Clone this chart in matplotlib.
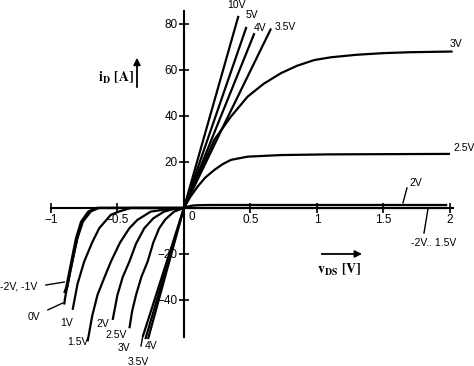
import numpy as np
import matplotlib.pyplot as plt

plt.rcParams['font.family'] = ['Liberation Sans', 'DejaVu Sans']
plt.rcParams['mathtext.fontset'] = 'stix'

# positive vDS branch (first quadrant)
x10 = [0, 0.41]
y10 = [0, 83.5]
x5 = [0, 0.47]
y5 = [0, 78.7]
x4 = [0, 0.53]
y4 = [0, 76]
x35 = [0, 0.3, 0.655]
y35 = [0, 36, 78]
x3 = [0, 0.103, 0.228, 0.353, 0.479, 0.6, 0.73, 0.85, 0.98, 1.105, 1.3, 1.5, 1.7, 2.02]
y3 = [0, 13.6, 29.6, 39.7, 48.4, 54, 58.6, 61.8, 64.3, 65.5, 66.6, 67.3, 67.7, 68]
x25 = [0, 0.05, 0.103, 0.16, 0.228, 0.29, 0.353, 0.479, 0.73, 1.1, 2.0]
y25 = [0, 5, 9.3, 13.2, 16.5, 19, 20.9, 22.3, 23, 23.3, 23.5]
x2 = [0, 0.03, 0.06, 0.1, 0.2, 1.98]
y2 = [0, 0.6, 1.0, 1.2, 1.3, 1.3]
xoff = [0, 1.98]
yoff = [0, 0]

# negative vDS branch (third quadrant)
nx_m2 = [0, -0.66, -0.72, -0.774, -0.812, -0.837, -0.862, -0.887, -0.9]
ny_m2 = [0, 0, -1.6, -6, -13.2, -20.4, -27.7, -34.9, -37]
nx_m1 = [0, -0.65, -0.71, -0.765, -0.803, -0.83, -0.855, -0.878, -0.89]
ny_m1 = [0, 0, -1.6, -6, -13.2, -20.4, -27.7, -34.5, -36]
nx_0 = [0, -0.64, -0.70, -0.76, -0.80, -0.828, -0.855, -0.88, -0.895, -0.9]
ny_0 = [0, 0, -1.5, -6, -13, -20.4, -27.7, -35, -39.5, -42]
nx_1 = [0, -0.4, -0.49, -0.55, -0.637, -0.69, -0.75, -0.8, -0.837]
ny_1 = [0, 0, -1.6, -3, -8.8, -15, -23.3, -33, -44.3]
nx_15 = [0, -0.1, -0.25, -0.35, -0.41, -0.48, -0.549, -0.6, -0.65, -0.69, -0.724]
ny_15 = [0, -0.3, -1.6, -5.2, -8.8, -15, -23.3, -30.5, -37.8, -47, -58]
nx_2 = [0, -0.08, -0.15, -0.23, -0.298, -0.36, -0.41, -0.46, -0.5, -0.536]
ny_2 = [0, -0.5, -1.6, -4.5, -8.8, -15.5, -23.3, -30, -37.8, -48.7]
nx_25 = [0, -0.075, -0.14, -0.186, -0.23, -0.273, -0.32, -0.36, -0.39, -0.41]
ny_25 = [0, -1.6, -5, -8.8, -15, -23.3, -30, -37.8, -45, -52.3]
nx_3 = [0, -0.31]
ny_3 = [0, -56]
nx_35 = [0, -0.29]
ny_35 = [0, -57]
nx_4 = [0, -0.27]
ny_4 = [0, -57]

xticks = [-1, -0.5, 0.5, 1, 1.5, 2]
xticklabels = ['\u22121', '\u22120.5', '0.5', '1', '1.5', '2']
yticks = [-40, -20, 20, 40, 60, 80]
yticklabels = ['\u221240', '\u221220', '20', '40', '60', '80']

fig = plt.figure(figsize=(4.74, 3.66), dpi=100)
ax = fig.add_axes([0, 0, 1, 1])
ax.set_xlim(-1.383, 2.181)
ax.set_ylim(-68.7, 90.4)

for s in ['top', 'right']:
    ax.spines[s].set_visible(False)
ax.spines['left'].set_position(('data', 0))
ax.spines['bottom'].set_position(('data', 0))
ax.spines['left'].set_bounds(-56, 85.6)
ax.spines['bottom'].set_bounds(-1, 2.02)
ax.spines['left'].set_linewidth(1.5)
ax.spines['bottom'].set_linewidth(1.5)
ax.set_xticks(xticks)
ax.set_xticklabels(xticklabels)
ax.set_yticks(yticks)
ax.set_yticklabels(yticklabels)
ax.tick_params(direction='inout', length=7, width=1.2, labelsize=8.5, pad=1)
ax.set_facecolor('none')

lw = 1.6
for xs, ys in [(x10, y10), (x5, y5), (x4, y4), (x35, y35), (x3, y3),
               (x25, y25), (x2, y2), (xoff, yoff),
               (nx_m2, ny_m2), (nx_m1, ny_m1), (nx_0, ny_0), (nx_1, ny_1),
               (nx_15, ny_15), (nx_2, ny_2), (nx_25, ny_25), (nx_3, ny_3),
               (nx_35, ny_35), (nx_4, ny_4)]:
    ax.plot(xs, ys, color='black', lw=lw, solid_capstyle='butt',
            solid_joinstyle='round')

ax.text(0.035, -1.5, '0', fontsize=8.5, ha='left', va='top')

fs = 7.5
labels = [('10V', 0.398, 88.3), ('5V', 0.511, 83.9), ('4V', 0.571, 78.3),
          ('3.5V', 0.759, 78.7), ('3V', 2.045, 71.3), ('2.5V', 2.105, 26.1),
          ('2V', 1.744, 10.9), ('-2V.. 1.5V', 1.88, -15.2),
          ('-2V, -1V', -1.24, -34.3), ('0V', -1.128, -47.4), ('1V', -0.88, -50),
          ('1.5V', -0.797, -58.3), ('2V', -0.609, -50.4), ('2.5V', -0.511, -55.2),
          ('3V', -0.451, -60.9), ('3.5V', -0.346, -67), ('4V', -0.248, -60)]
for t, tx, ty in labels:
    ax.text(tx, ty, t, fontsize=fs, ha='center', va='center')

# leader lines
for (xa, ya), (xb, yb) in [((-1.038, -33.5), (-0.9, -32.2)),
                           ((-1.023, -44.3), (-0.91, -41.3)),
                           ((1.677, 8.7), (1.647, 2.2)),
                           ((1.835, -0.4), (1.805, -10.9)),
                           ((-0.323, -60), (-0.31, -56))]:
    ax.plot([xa, xb], [ya, yb], color='black', lw=1.0)

# axis titles with arrows
ax.text(-0.511, 56.5, r'$\mathbf{i_D}$ $\mathbf{[A]}$', fontsize=10,
        ha='center', va='center')
ax.annotate('', xy=(-0.353, 66.5), xytext=(-0.353, 51.3),
            arrowprops=dict(arrowstyle='-|>', color='black', lw=1.3,
                            mutation_scale=10))
ax.text(1.165, -27, r'$\mathbf{v_{DS}}$ $\mathbf{[V]}$', fontsize=10,
        ha='center', va='center')
ax.annotate('', xy=(1.36, -20), xytext=(1.015, -20),
            arrowprops=dict(arrowstyle='-|>', color='black', lw=1.3,
                            mutation_scale=10))

fig.savefig('out.png', dpi=100)
